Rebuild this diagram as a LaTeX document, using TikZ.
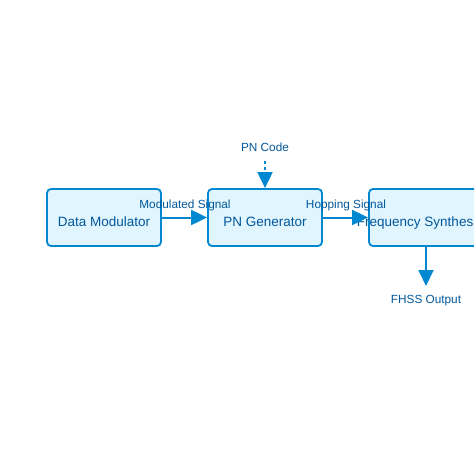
\documentclass[tikz,border=0pt]{standalone}
\usepackage{fontspec}
\setmainfont{Liberation Sans}
\usetikzlibrary{arrows.meta}
\definecolor{stroke}{HTML}{0288D1}
\definecolor{boxfill}{HTML}{E1F5FE}
\definecolor{txt}{HTML}{01579B}
\begin{document}
\begin{tikzpicture}[x=1pt,y=-1pt,
  blk/.style={draw=stroke,fill=boxfill,line width=1.8pt,rounded corners=4pt,minimum width=114pt,minimum height=57pt,inner sep=0pt},
  blktext/.style={text=txt,font=\fontsize{13.5}{15}\selectfont,inner sep=0pt,anchor=base},
  lbl/.style={text=txt,font=\fontsize{11.8}{13}\selectfont,inner sep=0pt,anchor=base},
  conn/.style={draw=stroke,line width=2pt,-{Triangle[length=16pt,width=15pt]}}]
\useasboundingbox (0,0) rectangle (474,474);
\begin{scope}
\clip (0,0) rectangle (474,474);
\node[blk] (dm) at (104,217.5) {};
\node[blk] (pn) at (265,217.5) {};
\node[blk] (fs) at (426,217.5) {};
\node[blktext] (dmt) at (104,226.8) {Data Modulator};
\node[blktext] (pnt) at (265,226.8) {PN Generator};
\node[blktext] (fst) at (426,226.8) {Frequency Synthesizer};
\node[lbl] (pncode) at (265,151.8) {PN Code};
\node[lbl] (fhss) at (426,303.8) {FHSS Output};
\coordinate (pntop) at (265,161);
\coordinate (fsout) at (426,286);
\draw[conn] (dm.east) -- (pn.west);
\draw[conn] (pn.east) -- (fs.west);
\draw[conn,dashed] (pntop) -- (pn.north);
\draw[conn] (fs.south) -- (fsout);
\node[lbl] (ms) at (185,208.6) {Modulated Signal};
\node[lbl] (hs) at (346,208.6) {Hopping Signal};
\end{scope}
\end{tikzpicture}
\end{document}
